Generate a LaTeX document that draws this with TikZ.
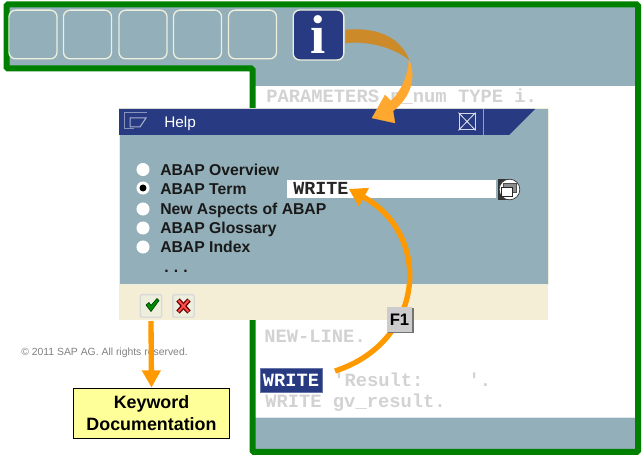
\documentclass[tikz,border=0pt]{standalone}
\usepackage{fontspec}
\usepackage{xcolor}
\setmainfont{Liberation Sans}
\newfontfamily\codefont{Liberation Mono}
\newfontfamily\infofont{Liberation Serif}
\usetikzlibrary{arrows.meta, calc}
\definecolor{PanelGray}{HTML}{93AFB9}
\definecolor{TitleBlue}{HTML}{283B82}
\definecolor{FrameGreen}{HTML}{008000}
\definecolor{Cream}{HTML}{F5EED6}
\definecolor{ButtonEdge}{HTML}{EEEEDD}
\definecolor{FlowOrange}{HTML}{FF9900}
\definecolor{CurlDark}{HTML}{CC8A28}
\definecolor{CurlLight}{HTML}{FFA830}
\definecolor{CodeGray}{HTML}{D2D2D2}
\definecolor{NoteYellow}{HTML}{FFFF99}
\tikzset{
    toolbtn/.style={rectangle, rounded corners=5pt, draw=ButtonEdge, line width=1pt,
          minimum width=36pt, minimum height=36.5pt, inner sep=0pt},
    codeline/.style={anchor=base west, inner sep=0pt, text=CodeGray,
          font=\codefont\bfseries\fontsize{14.1}{16}\selectfont},
    optlabel/.style={anchor=base west, inner sep=0pt, text=black!90,
          font=\bfseries\fontsize{11.8}{14}\selectfont},
    radiobtn/.style={circle, fill=white, minimum size=9.8pt, inner sep=0pt},
    dlgbtn/.style={rectangle, rounded corners=1pt, draw=black!15, line width=1pt, fill=ButtonEdge,
          minimum width=16pt, minimum height=17pt, inner sep=0pt},
    flowline/.style={FlowOrange, line width=4pt}
}

\begin{document}
\begin{tikzpicture}[x=0.75pt, y=-0.75pt]
    \useasboundingbox (0,0) rectangle (643,459);

    % Window
    \fill[PanelGray] (6,5) -- (638,5) -- (638,86) -- (252,86) -- (252,68) -- (6,68) -- cycle;
    \fill[PanelGray] (252,418) rectangle (638,452);
    \draw[white!70!PanelGray, line width=0.75pt] (255,418) -- (635,418);

    % Code
    \node[codeline] (params) at (266,103) {PARAMETERS p\_num TYPE i.};
    \node[codeline] (newline) at (264,343) {NEW-LINE.};
    \node[rectangle, fill=TitleBlue, draw=TitleBlue!70!white, line width=0.5pt, text=white,
          minimum width=46.5pt, minimum height=18pt, inner sep=0pt,
          font=\codefont\bfseries\fontsize{14}{16}\selectfont] (writehl) at (291,380) {WRITE};
    \node[codeline] (result) at (333,387) {'Result:\ \ \ \ '.};
    \node[codeline] (output) at (265,408) {WRITE gv\_result.};

    % Frame
    \draw[FrameGreen, line width=4.5pt, rounded corners=1pt] (6.5,4.5) -- (638,4.5) -- (638,452)
        -- (252.5,452) -- (252.5,68.5) -- (6.5,68.5) -- cycle;

    % Toolbar
    \foreach \btnx [count=\btnno] in {33,87.5,143,197.5,252.5}
        \node[toolbtn] (tool\btnno) at (\btnx,34.5) {};
    \node[rectangle, rounded corners=5pt, draw=ButtonEdge, line width=1pt, fill=TitleBlue, text=white,
          minimum width=38pt, minimum height=37.5pt, inner sep=0pt,
          font=\infofont\bfseries\fontsize{41}{41}\selectfont] (info) at (318.5,35) {i};

    \node[anchor=base west, inner sep=0pt, text=black!50, font=\fontsize{7.8}{9}\selectfont]
        (copyright) at (21,356) {\textcopyright{} 2011 SAP AG. All rights reserved.};

    % Dialog
    \node[rectangle, fill=PanelGray, draw=ButtonEdge, line width=0.5pt, minimum width=321.5pt,
          minimum height=132.5pt, inner sep=0pt] (dialog) at (333.5,196.5) {};
    \node[rectangle, fill=Cream, minimum width=322pt, minimum height=26.5pt, inner sep=0pt]
        (footer) at (333.5,302.5) {};
    \fill[TitleBlue] (119,109) -- (535,109) -- (509,135) -- (119,135) -- cycle;
    \draw[white!50!TitleBlue, line width=0.5pt] (483,109) -- (483,135);
    \draw[white!45!TitleBlue, line width=0.75pt] (147,112.5) -- (124,112.5) -- (124,129) -- (134,129);
    \draw[white!60!TitleBlue, line width=0.75pt] (130,118) -- (146,118) -- (140,127) -- (130,127) -- cycle;
    \node[anchor=base west, inner sep=0pt, text=white, font=\fontsize{11.5}{13}\selectfont]
        (title) at (164,128) {Help};
    \node[rectangle, draw=white!80!TitleBlue, line width=0.75pt, minimum width=12pt,
          minimum height=12.5pt, inner sep=0pt] (closebox) at (467,121.5) {};
    \draw[white!90!TitleBlue, line width=0.6pt] (closebox.north west) -- (closebox.south east);
    \draw[white!90!TitleBlue, line width=0.6pt] (closebox.north east) -- (closebox.south west);

    % Options
    \foreach \radioy [count=\radiono] in {169.5,188,209,228,247}
        \node[radiobtn] (radio\radiono) at (143,\radioy) {};
    \fill[black] (radio2) circle (3.5);
    \node[optlabel] (overview) at (160,176) {ABAP Overview};
    \node[optlabel] (term) at (160,194.5) {ABAP Term};
    \node[optlabel] (aspects) at (160,215) {New Aspects of ABAP};
    \node[optlabel] (glossary) at (160,234) {ABAP Glossary};
    \node[optlabel] (index) at (160,253) {ABAP Index};
    \node[optlabel] (dots) at (164,273) {.\,\,.\,\,.};

    % Input field
    \node[rectangle, fill=white, minimum width=157pt, minimum height=14pt, inner sep=0pt]
        (field) at (391.5,189) {};
    \node[codeline, text=black!85, font=\codefont\bfseries\fontsize{13.8}{16}\selectfont] (fieldtext) at (293,195) {WRITE};
    \fill[black!80] (498,179) rectangle (510,200);
    \node[circle, fill=white, draw=black!80, line width=0.5pt, minimum size=15.5pt, inner sep=0pt]
        (browse) at (509.5,189.5) {};
    \draw[fill=black!45, line width=0.5pt, draw=black!70] (503,183) rectangle (516,192);
    \draw[fill=white, line width=0.6pt, draw=black!85] (501,187) rectangle (512,196);

    % Dialog buttons
    \node[dlgbtn] (okbtn) at (151,306) {};
    \node[dlgbtn] (cancelbtn) at (183.5,306) {};
    \draw[fill=green!55!black, draw=green!25!black, line width=0.5pt, line join=round]
        (146,305) -- (149,302.5) -- (151,305.5) -- (157,298.5) -- (159,300.5) -- (151,311.5) -- cycle;
    \draw[black!60!red, line width=3.5pt] (178,300) -- (189,312);
    \draw[black!60!red, line width=3.5pt] (189,300) -- (178,312);
    \draw[red!70!white, line width=1.5pt] (178.5,300.5) -- (188.5,311.5);
    \draw[red!70!white, line width=1.5pt] (188.5,300.5) -- (178.5,311.5);

    % Keyword box
    \node[rectangle, fill=NoteYellow, draw=black, line width=0.75pt, minimum width=117.5pt,
          minimum height=38pt, inner sep=0pt, align=center, text=black,
          font=\bfseries\fontsize{13.4}{16.5}\selectfont] (kwdoc) at (151.5,413.5) {Keyword\\Documentation};

    % Flow
    \coordinate (twist) at (409,60);
    \coordinate (dlgin) at (372,118);
    \coordinate (f1start) at (335,371);
    \draw[CurlDark, fill=CurlDark, line width=0.2pt] ($(info.east)+(1,-5)$) .. controls (374,27) and (400,36) .. (twist)
        .. controls (398,50) and (372,40) .. ($(info.east)+(1,8)$) -- cycle;
    \draw[CurlLight, fill=CurlLight, line width=0.2pt] (twist) .. controls (416,76) and (412,96) .. (393,111)
        -- (395,123) -- (dlgin) -- (385,95) -- (391,101) .. controls (402,90) and (408,76) .. (twist) -- cycle;
    \draw[flowline, -{Triangle[length=13pt, width=15pt]}] (f1start) .. controls (425,342) and (433,235) .. (fieldtext.east);
    \draw[flowline, -{Triangle[length=13pt, width=13.5pt]}] ([yshift=-2.25pt]okbtn.south) -- (kwdoc.north);

    % Key
    \fill[black!55] (388,308) rectangle (413.5,333.5);
    \node[rectangle, fill=black!20, minimum width=18.75pt, minimum height=18.75pt, inner sep=0pt,
          text=black, font=\bfseries\fontsize{12.5}{14}\selectfont] (fkey) at (399.5,319.5) {F1};
\end{tikzpicture}
\end{document}
